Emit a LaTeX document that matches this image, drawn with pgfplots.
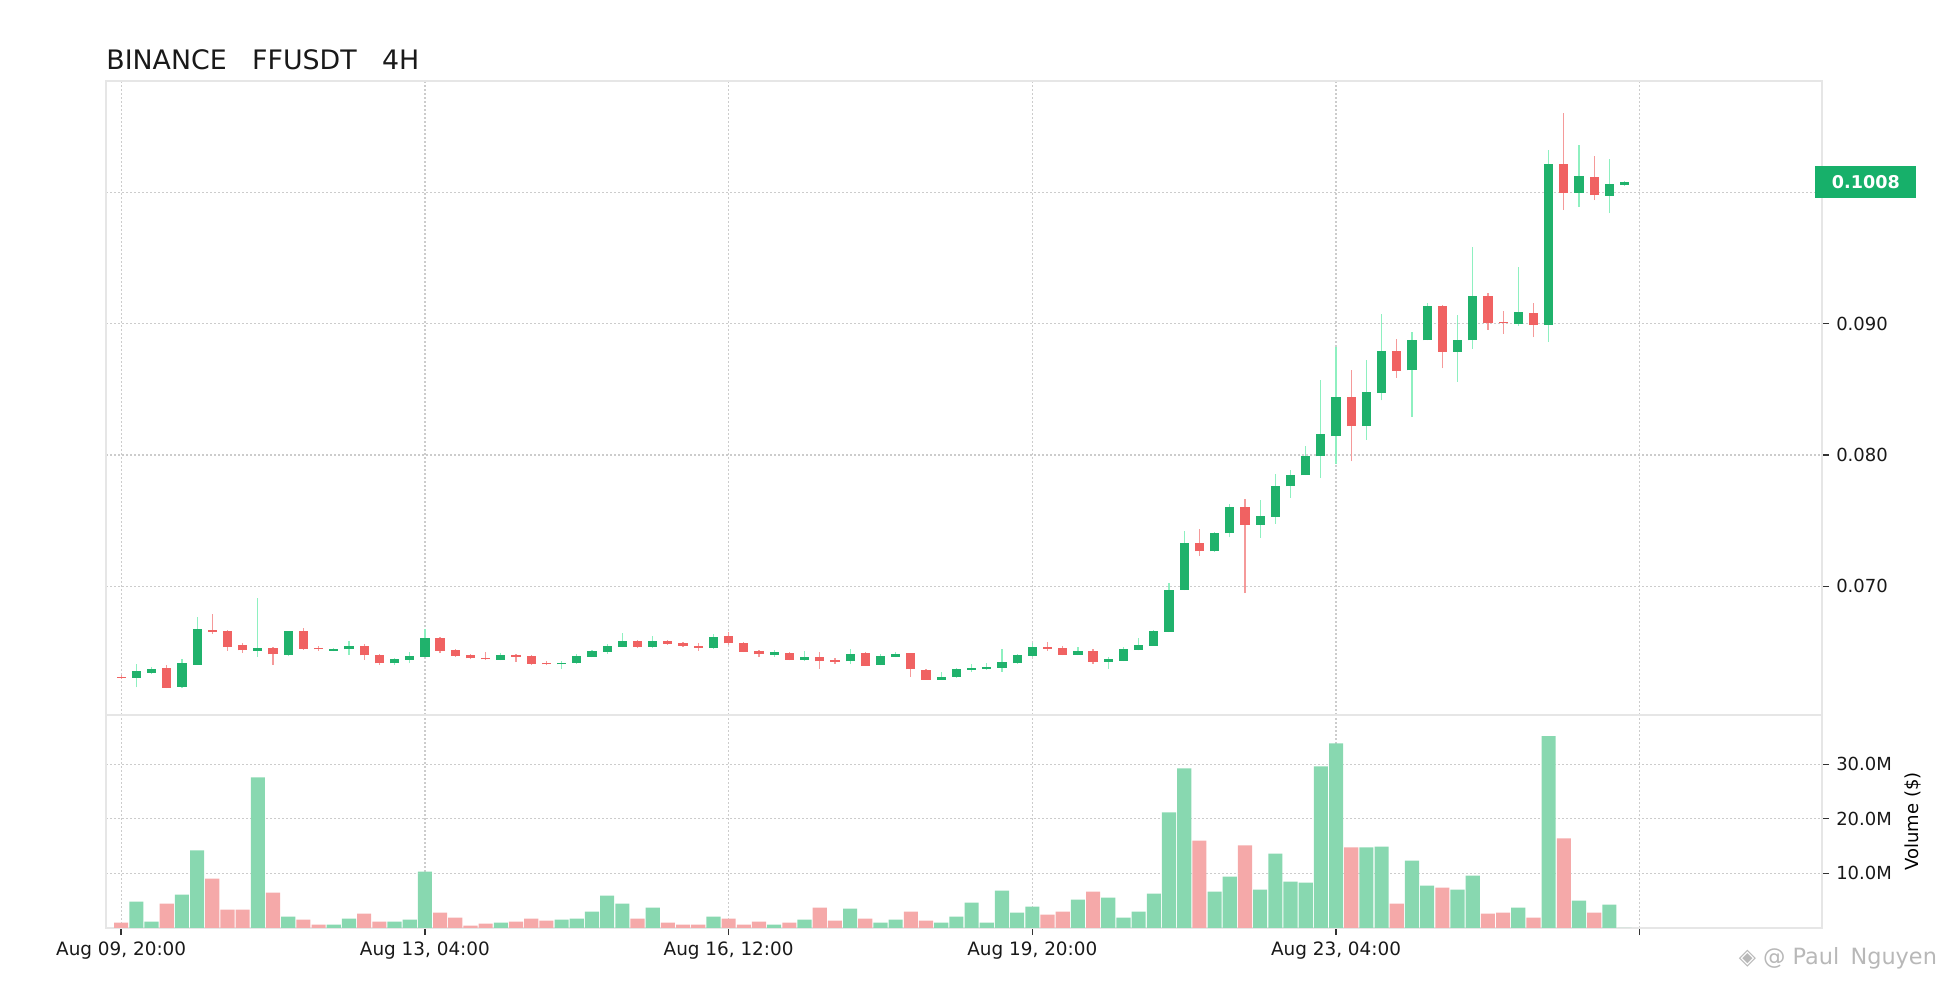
\documentclass[border=0pt]{standalone}
\usepackage{pgfplots}
\pgfplotsset{compat=1.18}
\usepackage{pgfplotstable}
\usepackage{fontspec}
\setmainfont{DejaVu Sans}

\definecolor{upbody}{HTML}{20B26C}
\definecolor{dnbody}{HTML}{F06262}
\definecolor{upwick}{HTML}{8EF0C0}
\definecolor{dnwick}{HTML}{F59A9A}
\definecolor{upvol}{HTML}{88D8B0}
\definecolor{dnvol}{HTML}{F5A9A9}
\definecolor{framec}{HTML}{E6E6E6}
\definecolor{gridc}{HTML}{CCCCCC}
\definecolor{boxg}{HTML}{17B06A}

\pgfplotstableread{
i o h l c v
1 0.06305 0.06409 0.06231 0.06353 4.83
2 0.06343 0.06386 0.06330 0.06368 1.16
4 0.06236 0.06447 0.06223 0.06414 6.12
5 0.06404 0.06769 0.06401 0.06673 14.19
9 0.06510 0.06911 0.06462 0.06533 27.58
11 0.06480 0.06662 0.06467 0.06657 2.08
14 0.06510 0.06533 0.06505 0.06525 0.61
15 0.06520 0.06584 0.06480 0.06548 1.71
18 0.06414 0.06454 0.06401 0.06449 1.16
19 0.06442 0.06500 0.06416 0.06472 1.53
20 0.06464 0.06673 0.06459 0.06609 10.34
25 0.06442 0.06492 0.06437 0.06480 0.98
29 0.06406 0.06434 0.06371 0.06419 1.53
30 0.06419 0.06485 0.06411 0.06472 1.71
31 0.06464 0.06518 0.06459 0.06510 3.00
32 0.06503 0.06561 0.06485 0.06548 5.93
33 0.06541 0.06645 0.06536 0.06586 4.46
35 0.06541 0.06622 0.06530 0.06586 3.73
39 0.06533 0.06637 0.06523 0.06617 2.08
43 0.06480 0.06518 0.06462 0.06497 0.61
45 0.06442 0.06510 0.06431 0.06464 1.53
48 0.06429 0.06523 0.06409 0.06487 3.55
50 0.06404 0.06482 0.06398 0.06472 0.98
51 0.06464 0.06500 0.06459 0.06487 1.53
54 0.06289 0.06348 0.06287 0.06312 0.98
55 0.06312 0.06381 0.06302 0.06373 2.08
56 0.06365 0.06406 0.06348 0.06381 4.65
57 0.06373 0.06414 0.06365 0.06388 0.98
58 0.06381 0.06523 0.06348 0.06421 6.85
59 0.06414 0.06485 0.06409 0.06480 2.81
60 0.06472 0.06566 0.06459 0.06541 3.91
63 0.06480 0.06538 0.06475 0.06510 5.20
65 0.06426 0.06459 0.06371 0.06444 5.57
66 0.06434 0.06541 0.06429 0.06525 1.90
67 0.06518 0.06607 0.06513 0.06556 3.00
68 0.06548 0.06668 0.06546 0.06662 6.30
69 0.06655 0.07023 0.06650 0.06975 21.16
70 0.06975 0.07420 0.06970 0.07333 29.24
72 0.07267 0.07417 0.07262 0.07410 6.67
73 0.07405 0.07629 0.07374 0.07601 9.42
75 0.07471 0.07659 0.07369 0.07539 7.03
76 0.07532 0.07857 0.07476 0.07768 13.64
77 0.07761 0.07888 0.07674 0.07852 8.50
78 0.07845 0.08066 0.07845 0.07990 8.32
79 0.07990 0.08570 0.07824 0.08158 29.60
80 0.08145 0.08824 0.07934 0.08440 33.82
82 0.08221 0.08723 0.08117 0.08478 14.74
83 0.08473 0.09074 0.08417 0.08794 14.92
85 0.08645 0.08937 0.08290 0.08879 12.35
86 0.08874 0.09156 0.08874 0.09136 7.77
88 0.08788 0.09065 0.08559 0.08879 7.03
89 0.08874 0.09587 0.08809 0.09212 9.60
92 0.09000 0.09436 0.08985 0.09093 3.73
94 0.08992 0.10325 0.08861 0.10217 35.11
96 0.10000 0.10365 0.09889 0.10126 5.02
98 0.09977 0.10259 0.09844 0.10065 4.28
99 0.10060 0.10085 0.10050 0.10080 0
}\up

\pgfplotstableread{
i o h l c v
0 0.06312 0.06327 0.06294 0.06308 0.98
3 0.06376 0.06401 0.06223 0.06226 4.46
6 0.06670 0.06789 0.06637 0.06655 9.05
7 0.06662 0.06670 0.06508 0.06541 3.36
8 0.06556 0.06569 0.06495 0.06513 3.36
10 0.06533 0.06541 0.06401 0.06482 6.48
12 0.06662 0.06680 0.06518 0.06525 1.53
13 0.06533 0.06548 0.06510 0.06520 0.61
16 0.06548 0.06561 0.06439 0.06475 2.63
17 0.06480 0.06485 0.06401 0.06414 1.16
21 0.06609 0.06612 0.06492 0.06510 2.81
22 0.06518 0.06523 0.06464 0.06472 1.90
23 0.06480 0.06485 0.06444 0.06452 0.43
24 0.06457 0.06500 0.06439 0.06444 0.80
26 0.06480 0.06485 0.06426 0.06464 1.16
27 0.06472 0.06477 0.06404 0.06411 1.71
28 0.06419 0.06434 0.06398 0.06406 1.35
34 0.06586 0.06591 0.06530 0.06541 1.71
36 0.06586 0.06591 0.06556 0.06564 0.98
37 0.06571 0.06579 0.06541 0.06548 0.61
38 0.06548 0.06566 0.06508 0.06533 0.61
40 0.06622 0.06655 0.06556 0.06566 1.71
41 0.06571 0.06579 0.06497 0.06503 0.61
42 0.06510 0.06518 0.06462 0.06482 1.16
44 0.06495 0.06503 0.06437 0.06442 0.98
46 0.06464 0.06497 0.06371 0.06429 3.73
47 0.06437 0.06452 0.06411 0.06426 1.35
49 0.06490 0.06497 0.06393 0.06396 1.71
52 0.06490 0.06495 0.06310 0.06368 3.00
53 0.06365 0.06371 0.06287 0.06289 1.35
61 0.06541 0.06579 0.06508 0.06525 2.45
62 0.06533 0.06543 0.06475 0.06480 3.00
64 0.06510 0.06520 0.06411 0.06426 6.67
71 0.07333 0.07435 0.07232 0.07267 16.02
74 0.07601 0.07664 0.06949 0.07471 15.11
81 0.08440 0.08651 0.07952 0.08221 14.74
84 0.08794 0.08885 0.08590 0.08641 4.46
87 0.09136 0.09144 0.08660 0.08788 7.40
90 0.09212 0.09232 0.08955 0.09010 2.63
91 0.09015 0.09096 0.08924 0.09003 2.81
93 0.09083 0.09156 0.08899 0.08992 1.90
95 0.10217 0.10607 0.09869 0.10000 16.39
97 0.10118 0.10280 0.09942 0.09980 2.81
}\down

\pgfplotsset{
  panel/.style={
    scale only axis, width=858pt,
    xmin=-1, xmax=112,
    axis line style={draw=framec, line width=1pt},
    xtick={0,20,40,60,80,100},
    grid=major,
    major grid style={draw=gridc, line width=0.6pt, dash pattern=on 0.9pt off 1.1pt},
    tick align=outside,
    major tick length=3.6pt,
    ytick pos=right, yticklabel pos=right,
    ytick style={draw=black!80, line width=0.6pt},
    yticklabel style={font=\fontsize{9}{10}\selectfont, text=black!90},
    xticklabel style={font=\fontsize{9.2}{10}\selectfont, text=black!90},
    /pgf/number format/assume math mode=true,
  },
}

\begin{document}
\begin{tikzpicture}
\useasboundingbox (0,0) rectangle (980pt,490pt);

\begin{axis}[panel, name=price,
  at={(53pt,132.5pt)}, anchor=south west, height=317pt,
  ymin=0.0602, ymax=0.1085,
  ytick={0.07,0.08,0.09,0.1},
  yticklabels={0.070,0.080,0.090,},
  xticklabels={}, xtick style={draw=none},
  clip=false]
  % wicks
  \addplot [draw=none, mark=none, error bars/.cd, y dir=plus, y explicit, error mark=none,
    error bar style={draw=upwick, line width=0.6pt, solid}]
    table [x=i, y=l, y error plus expr=\thisrow{h}-\thisrow{l}] {\up};
  \addplot [draw=none, mark=none, error bars/.cd, y dir=plus, y explicit, error mark=none,
    error bar style={draw=dnwick, line width=0.6pt, solid}]
    table [x=i, y=l, y error plus expr=\thisrow{h}-\thisrow{l}] {\down};
  % bodies
  \addplot [draw=none, mark=none, error bars/.cd, y dir=plus, y explicit, error mark=none,
    error bar style={draw=upbody, line width=4.6pt, solid}]
    table [x=i, y=o, y error plus expr=\thisrow{c}-\thisrow{o}] {\up};
  \addplot [draw=none, mark=none, error bars/.cd, y dir=plus, y explicit, error mark=none,
    error bar style={draw=dnbody, line width=4.6pt, solid}]
    table [x=i, y=c, y error plus expr=\thisrow{o}-\thisrow{c}] {\down};

  \node[anchor=base west, inner sep=0pt, yshift=5.5pt, font=\fontsize{13.4}{16}\selectfont, text=black!90]
    at (rel axis cs:0,1) {BINANCE\hspace{0.95em}FFUSDT\hspace{0.95em}4H};
  \node[fill=boxg, text=white, font=\bfseries\fontsize{8.8}{10}\selectfont, anchor=west,
    minimum width=50.5pt, minimum height=16pt, inner sep=0pt, xshift=-3.5pt]
    at (axis cs:112,0.1008) {0.1008};
\end{axis}

\begin{axis}[panel, name=vol,
  at={(53pt,132.5pt)}, anchor=north west, height=106.5pt,
  ymin=0, ymax=39,
  ytick={10,20,30},
  yticklabels={10.0M,20.0M,30.0M},
  xticklabels={{Aug 09, 20:00},{Aug 13, 04:00},{Aug 16, 12:00},{Aug 19, 20:00},{Aug 23, 04:00},{}},
  xtick style={draw=black!80, line width=0.7pt},
  xtick pos=bottom,
  ylabel={Volume (\$)},
  every axis y label/.style={at={(axis description cs:1.044,0.5)}, anchor=north, rotate=90,
    font=\fontsize{9}{10}\selectfont},
  clip=false]
  \addplot [ybar, bar width=0.93, bar shift=0pt, fill=upvol, draw=none] table [x=i, y=v] {\up};
  \addplot [ybar, bar width=0.93, bar shift=0pt, fill=dnvol, draw=none] table [x=i, y=v] {\down};
\end{axis}

\node[anchor=base east, text=black!28, font=\fontsize{11.2}{13}\selectfont] at (972pt,8pt)
  {◈ @ Paul\hspace{0.5em}Nguyen};
\end{tikzpicture}
\end{document}
